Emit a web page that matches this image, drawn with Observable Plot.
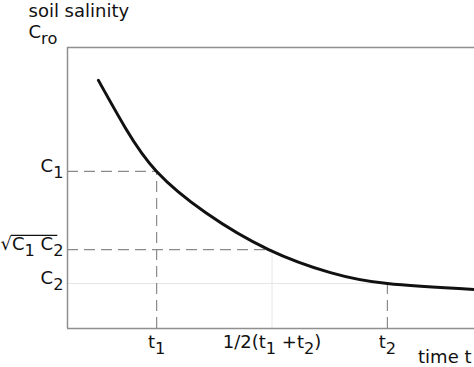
<!DOCTYPE html>
<html><head><meta charset="utf-8">
<script src="https://cdn.jsdelivr.net/npm/d3@7"></script>
<script src="https://cdn.jsdelivr.net/npm/@observablehq/plot@0.6"></script>
<style>body{margin:0;background:#fff} svg{display:block}</style>
</head><body><div id="chart"></div>
<script>
// curve (time in arbitrary units 0..10, salinity 0..10)
const curveT = [0.76, 1.43, 2.19, 3.39, 4.94, 6.46, 7.86, 10.0];
const curveC = [8.83, 7.12, 5.59, 4.13, 2.81, 1.99, 1.60, 1.39];
const tDomain = [0, 10];
const cDomain = [0, 10];
const t1 = 2.19, t2 = 7.86, tMid = (t1 + t2) / 2;
const C1 = 5.59, Cg = 2.81, C2 = 1.60;
const xTickValues = [t1, tMid, t2];
const xTickLabels = ["t_1", "1/2(t_1 +t_2)", "t_2"];
const yTickValues = [C1, Cg, C2];
const yTickLabels = ["C_1", "√[C_1 C_2]", "C_2"];
const titleLines = ["soil salinity", "C_{ro}"];
const xTitle = "time t";

const curve = curveT.map((t, i) => ({t, c: curveC[i]}));
const axisGray = "#8f8f8f", dashGray = "#8a8a8a", faint = "#e6e6e6";
const dash = "11,6";

const plot = Plot.plot({
  width: 474, height: 367,
  marginLeft: 67, marginRight: 0, marginTop: 47, marginBottom: 39,
  x: {domain: tDomain},
  y: {domain: cDomain},
  style: {fontFamily: "DejaVu Sans", fontSize: "18px", color: "#111", background: "#fff"},
  marks: [
    Plot.ruleY([C2], {x1: tDomain[0], x2: t2, stroke: faint, strokeWidth: 1}),
    Plot.ruleX([tMid], {y1: cDomain[0], y2: Cg, stroke: faint, strokeWidth: 1}),
    Plot.ruleY([C1], {x1: tDomain[0], x2: t1, stroke: dashGray, strokeWidth: 1.2, strokeDasharray: dash}),
    Plot.ruleX([t1], {y1: cDomain[0], y2: C1, stroke: dashGray, strokeWidth: 1.2, strokeDasharray: dash}),
    Plot.ruleY([Cg], {x1: tDomain[0], x2: tMid, stroke: dashGray, strokeWidth: 1.2, strokeDasharray: dash}),
    Plot.ruleX([t2], {y1: cDomain[0], y2: C2, stroke: dashGray, strokeWidth: 1.2, strokeDasharray: dash}),
    Plot.ruleX([tDomain[0]], {stroke: axisGray, strokeWidth: 1.5}),
    Plot.ruleY([cDomain[0]], {stroke: axisGray, strokeWidth: 1.5}),
    Plot.ruleY([cDomain[1]], {stroke: axisGray, strokeWidth: 1.5}),
    Plot.line(curve, {x: "t", y: "c", curve: "natural", stroke: "#111", strokeWidth: 3}),
    Plot.axisY(yTickValues, {tickSize: 0, tickPadding: 4, fontSize: 18, dy: -5, label: null,
      tickFormat: d => yTickLabels[yTickValues.indexOf(d)]}),
    Plot.axisX(xTickValues, {tickSize: 0, tickPadding: 7, fontSize: 18, label: null,
      tickFormat: d => xTickLabels[xTickValues.indexOf(d)]}),
    Plot.text([titleLines[0]], {text: d => d, frameAnchor: "top-left", textAnchor: "start", lineAnchor: "bottom", dx: -39, dy: -31, fontSize: 18}),
    Plot.text([titleLines[1]], {text: d => d, frameAnchor: "top-left", textAnchor: "start", lineAnchor: "bottom", dx: -39, dy: -10, fontSize: 18}),
    Plot.text([xTitle], {text: d => d, frameAnchor: "bottom-right", textAnchor: "end", lineAnchor: "bottom", dx: -3, dy: 34, fontSize: 18})
  ]
});
document.getElementById("chart").appendChild(plot);

// rich text: "_x" or "_{xy}" subscripts, "[...]" overline
const NS = "http://www.w3.org/2000/svg";
const SUB = 6;
function richify(el) {
  const src = el.textContent;
  if (!/[_\[]/.test(src)) return;
  el.textContent = "";
  let i = 0, buf = "", count = 0, down = false, oStart = -1, oEnd = -1;
  const add = (str, isSub) => {
    const ts = document.createElementNS(NS, "tspan");
    ts.textContent = str;
    if (isSub) { ts.setAttribute("dy", SUB); ts.setAttribute("font-size", "0.9em"); down = true; }
    else if (down) { ts.setAttribute("dy", -SUB); down = false; }
    el.appendChild(ts);
    count += str.length;
  };
  const flush = () => { if (buf) { add(buf, false); buf = ""; } };
  while (i < src.length) {
    const c = src[i];
    if (c === "_") {
      flush();
      let s;
      if (src[i + 1] === "{") { const j = src.indexOf("}", i); s = src.slice(i + 2, j); i = j + 1; }
      else { s = src[i + 1]; i += 2; }
      add(s, true);
    } else if (c === "[") { flush(); oStart = count; i++; }
    else if (c === "]") { flush(); oEnd = count - 1; i++; }
    else { buf += c; i++; }
  }
  flush();
  if (oStart >= 0) {
    const a = el.getExtentOfChar(oStart), b = el.getExtentOfChar(oEnd);
    const base = el.getStartPositionOfChar(oStart).y;
    const ln = document.createElementNS(NS, "line");
    ln.setAttribute("x1", a.x - 1);
    ln.setAttribute("x2", b.x + b.width * 0.4);
    ln.setAttribute("y1", base - 15);
    ln.setAttribute("y2", base - 15);
    ln.setAttribute("stroke", "#111");
    ln.setAttribute("stroke-width", 1.2);
    const tr = el.getAttribute("transform");
    if (tr) ln.setAttribute("transform", tr);
    el.parentNode.appendChild(ln);
  }
}
plot.querySelectorAll("text").forEach(richify);
</script>
</body></html>
